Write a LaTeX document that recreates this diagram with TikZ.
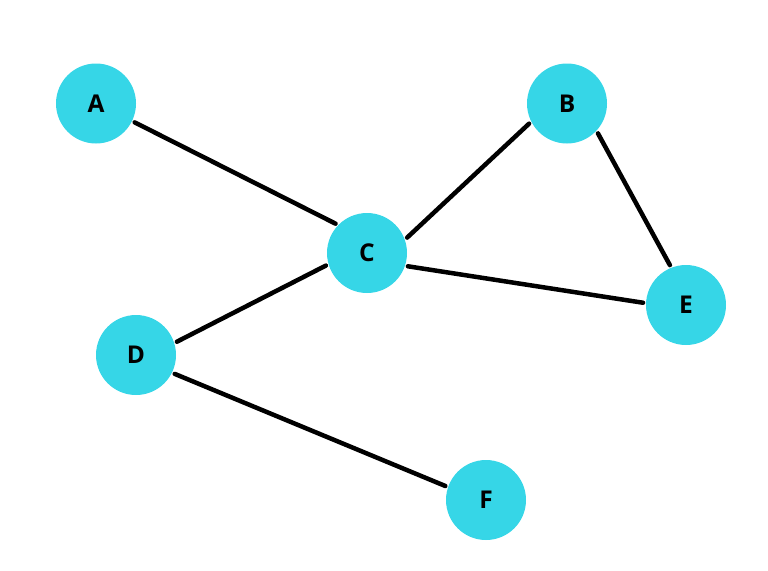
\documentclass[tikz,border=0pt]{standalone}
\usepackage{fontspec}
\setmainfont{Open Sans}
\definecolor{nodecyan}{HTML}{36D6E7}
\begin{document}
\begin{tikzpicture}[x=1pt,y=-1pt,
  vert/.style={circle,fill=nodecyan,minimum size=80pt,inner sep=0pt,outer sep=3pt,font=\fontsize{24.5}{24.5}\selectfont\bfseries,text=black},
  link/.style={line width=4.5pt,black,line cap=round}]
\useasboundingbox (0,0) rectangle (768,570);
\node[vert] (A) at (96,103.5) {A};
\node[vert] (B) at (567,103.5) {B};
\node[vert] (C) at (367,253) {C};
\node[vert] (D) at (136,355) {D};
\node[vert] (E) at (686,305) {E};
\node[vert] (F) at (486,500) {F};
\draw[link] (A.-26) -- (C.137);
\draw[link] (C.21) -- (B.208);
\draw[link] (B.-44) -- (E.112);
\draw[link] (C.-18) -- (E.177);
\draw[link] (D.18) -- (C.197);
\draw[link] (D.-26) -- (F.161);
\end{tikzpicture}
\end{document}
